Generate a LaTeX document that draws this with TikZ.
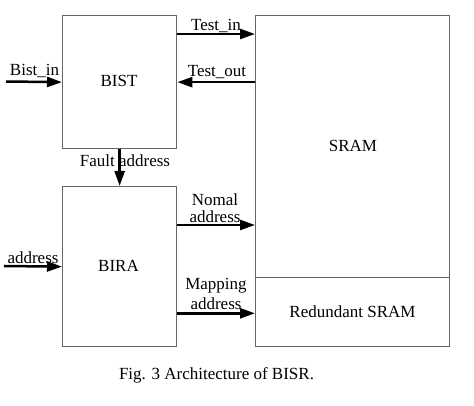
\documentclass[tikz,border=0pt]{standalone}
\usepackage{fontspec}
\setmainfont{Liberation Serif}
\usetikzlibrary{arrows.meta}
\begin{document}
\begin{tikzpicture}[x=1pt,y=-1pt,
  every node/.style={font=\fontsize{17}{19}\selectfont},
  blk/.style={draw=black!60, line width=1.3pt, inner sep=0pt},
  sig/.style={line width=2.5pt, -{Triangle[length=15pt,width=10pt]}},
  lbl/.style={anchor=base, inner sep=0pt}]
\useasboundingbox (0,0) rectangle (474,406);
% blocks
\node[blk, minimum width=114pt, minimum height=133pt, anchor=north west] (bist) at (62,15) {};
\node[blk, minimum width=114pt, minimum height=160pt, anchor=north west] (bira) at (62,186) {};
\node[blk, minimum width=194pt, minimum height=262pt, anchor=north west] (sram) at (255,15) {};
\node[blk, minimum width=194pt, minimum height=69pt, anchor=north west] (red) at (255,277) {};
% block labels
\node[lbl] (tbist) at (119,87) {BIST};
\node[lbl] (tbira) at (118.5,272) {BIRA};
\node[lbl] (tsram) at (353,152) {SRAM};
\node[lbl] (tred) at (352.5,317) {Redundant SRAM};
% connector ends
\coordinate (bin) at (6,81.5);
\coordinate (ain) at (4,266);
\coordinate (tin) at ([yshift=-19pt]bist.north east);
\coordinate (na) at ([yshift=-39pt]bira.north east);
\coordinate (ma) at ([yshift=34pt]bira.south east);
% connectors
\draw[sig] (bin) -- (bist.west);
\draw[sig] (ain) -- (bira.west);
\draw[sig] (tin) -- (sram.west |- tin);
\draw[sig] (sram.west |- bist.east) -- (bist.east);
\draw[sig] (bist.south) -- (bira.north);
\draw[sig] (na) -- (sram.west |- na);
\draw[sig] (ma) -- (red.west |- ma);
% connector labels
\node[lbl] (lbin) at (34.5,76) {Bist\_in};
\node[lbl] (lain) at (33,263) {address};
\node[lbl] (ltin) at (216,31) {Test\_in};
\node[lbl] (ltout) at (217,77) {Test\_out};
\node[lbl] (lfa) at (125,167) {Fault address};
\node[lbl] (lna1) at (215,206) {Nomal};
\node[lbl] (lna2) at (215,223) {address};
\node[lbl] (lma1) at (216,290) {Mapping};
\node[lbl] (lma2) at (216,309) {address};
% caption
\node[lbl] (cap) at (216.5,379) {Fig. 3 Architecture of BISR.};
\end{tikzpicture}
\end{document}
